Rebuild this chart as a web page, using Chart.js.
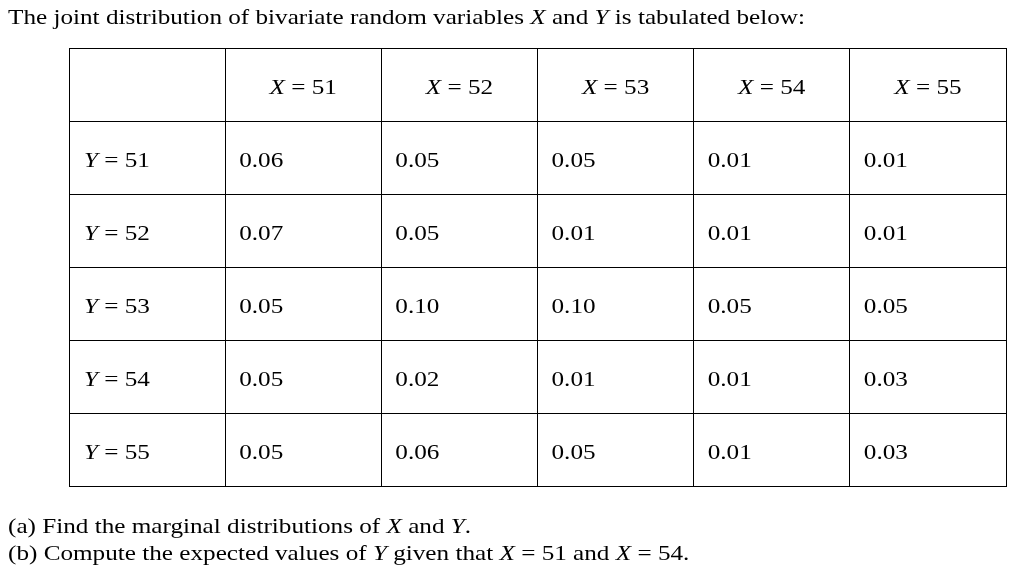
<!DOCTYPE html>
<html><head><meta charset="utf-8">
<script src="https://cdn.jsdelivr.net/npm/chart.js@4"></script>
<style>html,body{margin:0;padding:0;background:#fff}#w{width:1024px;height:583px}</style>
</head><body><div id="w"><canvas id="c"></canvas></div>
<script>
const xLabels = ["51","52","53","54","55"];
const yLabels = ["51","52","53","54","55"];
const probs = [
  ["0.06","0.05","0.05","0.01","0.01"],
  ["0.07","0.05","0.01","0.01","0.01"],
  ["0.05","0.10","0.10","0.05","0.05"],
  ["0.05","0.02","0.01","0.01","0.03"],
  ["0.05","0.06","0.05","0.01","0.03"]
];
const FONT = '"Liberation Serif","DejaVu Serif",serif';
const SIZE = 21;
let SX = 1;
function measure(ctx, parts){
  let w=0;
  parts.forEach(p=>{ctx.font=(p[1]?'italic ':'')+SIZE+'px '+FONT; w+=ctx.measureText(p[0]).width;});
  return w;
}
function segs(ctx, parts, x, y, align){
  const w=measure(ctx,parts)*SX;
  let cx = align==='center'? x-w/2 : x;
  ctx.textAlign='left'; ctx.textBaseline='middle'; ctx.fillStyle='#000';
  parts.forEach(p=>{
    ctx.font=(p[1]?'italic ':'')+SIZE+'px '+FONT;
    ctx.save(); ctx.translate(cx,y); ctx.scale(SX,1); ctx.fillText(p[0],0,0); ctx.restore();
    cx+=ctx.measureText(p[0]).width*SX;
  });
}
const top1=[["The joint distribution of bivariate random variables ",0],["X",1],[" and ",0],["Y",1],[" is tabulated below:",0]];
const textPlugin = {id:'tbl', afterDraw(chart){
  const ctx=chart.ctx, xs=chart.scales.x, ys=chart.scales.y;
  ctx.save();
  SX = 797/measure(ctx, top1);
  const dy=4;
  xLabels.forEach((l,i)=>{
    segs(ctx,[["X",1],[" = "+l,0]], xs.getPixelForValue(i+1.5), ys.getPixelForValue(0.5)+dy,'center');
  });
  yLabels.forEach((l,r)=>{
    const y=ys.getPixelForValue(r+1.5)+dy;
    segs(ctx,[["Y",1],[" = "+l,0]], xs.getPixelForValue(0)+15, y,'left');
    probs[r].forEach((v,c)=>segs(ctx,[[v,0]], xs.getPixelForValue(c+1)+14, y,'left'));
  });
  segs(ctx,top1,8,18,'left');
  segs(ctx,[["(a) Find the marginal distributions of ",0],["X",1],[" and ",0],["Y",1],[".",0]],8,527,'left');
  segs(ctx,[["(b) Compute the expected values of ",0],["Y",1],[" given that ",0],["X",1],[" = 51 and ",0],["X",1],[" = 54.",0]],8,554,'left');
  ctx.restore();
}};
new Chart(document.getElementById('c'),{
  type:'scatter',
  data:{datasets:[{data:[],pointRadius:0}]},
  options:{responsive:true,maintainAspectRatio:false,animation:false,
    layout:{padding:{left:69,right:18,top:48,bottom:97}},
    plugins:{legend:{display:false},tooltip:{enabled:false}},
    scales:{
      x:{type:'linear',min:0,max:6,ticks:{display:false,stepSize:1},grid:{color:'#000',lineWidth:1,drawTicks:false},border:{display:true,color:'#000'}},
      y:{type:'linear',min:0,max:6,reverse:true,ticks:{display:false,stepSize:1},grid:{color:'#000',lineWidth:1,drawTicks:false},border:{display:true,color:'#000'}}
    }},
  plugins:[textPlugin]
});
</script></body></html>
